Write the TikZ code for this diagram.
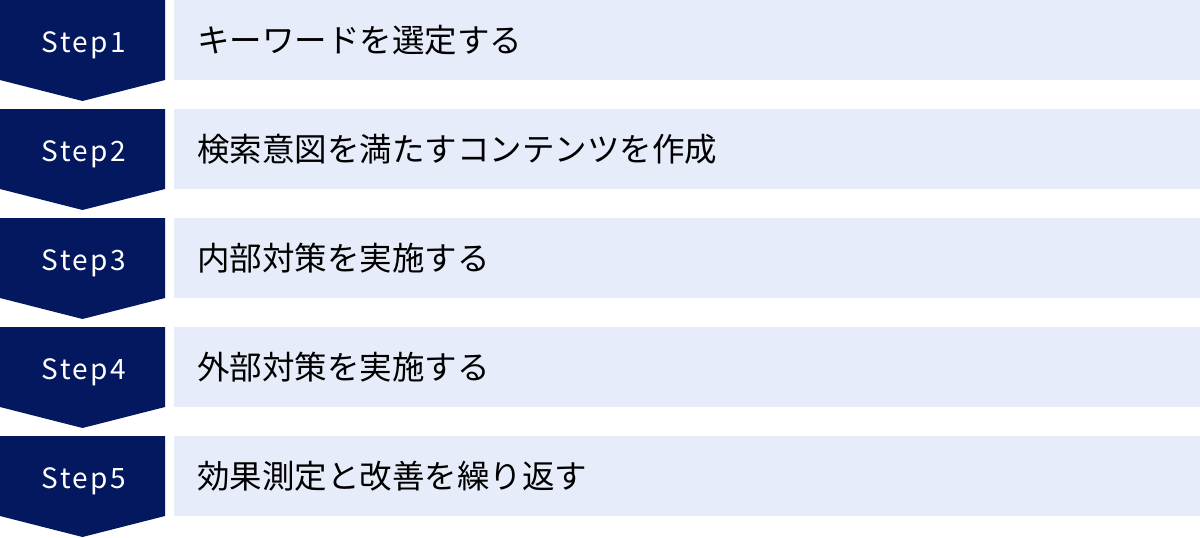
\documentclass[tikz,border=0pt]{standalone}
\usepackage{fontspec}
\setmainfont{Noto Sans CJK JP}
\newfontfamily\steplabelfont[LetterSpace=9]{Noto Sans CJK JP}
\usepackage{tikz}
\usetikzlibrary{positioning}
\definecolor{stepnavy}{RGB}{4,24,96}
\definecolor{boxblue}{RGB}{230,236,249}
\tikzstyle{steplabel} = [text=white, font=\steplabelfont\fontsize{28}{32}\selectfont, inner sep=0pt, anchor=base]
\tikzstyle{stepfill} = [fill=stepnavy]
\tikzset{
  textbox/.style ={fill=boxblue, anchor=north west, minimum height=80pt, text width=980pt,
    inner xsep=23pt, inner ysep=0pt, align=left, font=\fontsize{32.5}{38}\selectfont}
}

\begin{document}
\begin{tikzpicture}[x=1pt,y=1pt]
	\useasboundingbox (0,0) rectangle (1200,-538);
	\fill [stepfill] (0,0) -- (165,0) -- (165,-80) -- (82.5,-101) -- (0,-80) -- cycle;
	\node [steplabel] (step1) at (84,-52) {Step1};
	\node [textbox] (text1) at (174,0) {キーワードを選定する};

	\fill [stepfill] (0,-109) -- (165,-109) -- (165,-189) -- (82.5,-210) -- (0,-189) -- cycle;
	\node [steplabel] (step2) at (84,-161) {Step2};
	\node [textbox] (text2) at (174,-109) {検索意図を満たすコンテンツを作成};

	\fill [stepfill] (0,-218) -- (165,-218) -- (165,-298) -- (82.5,-319) -- (0,-298) -- cycle;
	\node [steplabel] (step3) at (84,-270) {Step3};
	\node [textbox] (text3) at (174,-218) {内部対策を実施する};

	\fill [stepfill] (0,-327) -- (165,-327) -- (165,-407) -- (82.5,-428) -- (0,-407) -- cycle;
	\node [steplabel] (step4) at (84,-379) {Step4};
	\node [textbox] (text4) at (174,-327) {外部対策を実施する};

	\fill [stepfill] (0,-436) -- (165,-436) -- (165,-516) -- (82.5,-537) -- (0,-516) -- cycle;
	\node [steplabel] (step5) at (84,-488) {Step5};
	\node [textbox] (text5) at (174,-436) {効果測定と改善を繰り返す};

\end{tikzpicture}
\end{document}
